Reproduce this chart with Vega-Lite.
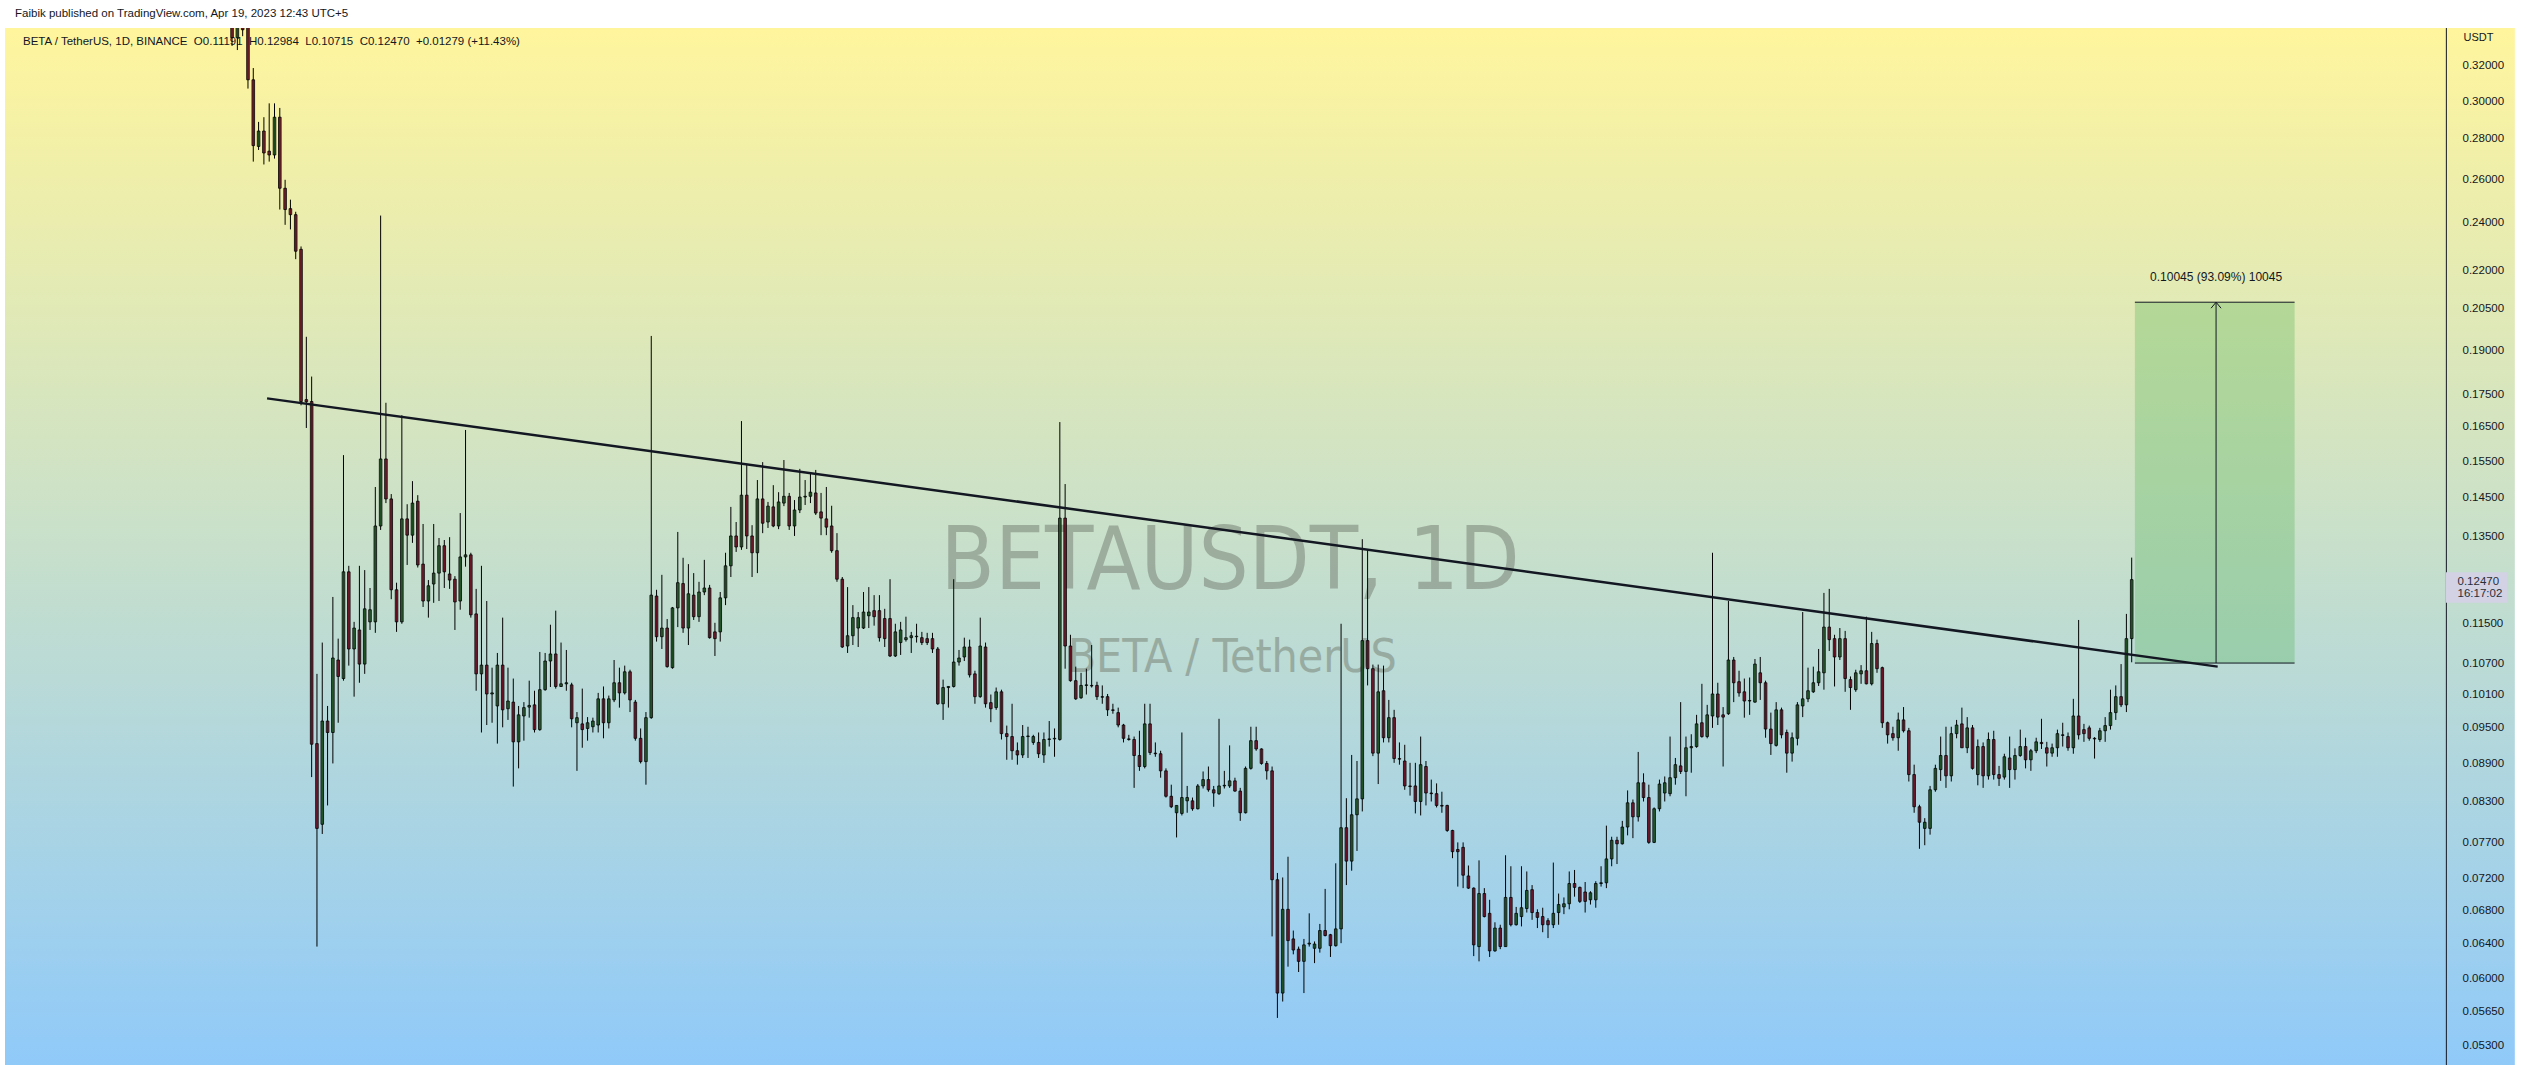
{
"$schema": "https://vega.github.io/schema/vega-lite/v6.json",
"width": 2452, "height": 1037,
"autosize": {"type": "none"},
"padding": {"left": 0, "top": 28, "right": 78, "bottom": 0},
"background": "#ffffff",
"config": {"view": {"stroke": null}, "font": "Liberation Sans"},
"data": {"values": [
{"i":0,"o":0.360,"h":0.372,"l":0.332,"c":0.337},
{"i":1,"o":0.337,"h":0.362,"l":0.3295,"c":0.352},
{"i":2,"o":0.346,"h":0.352,"l":0.338,"c":0.342},
{"i":3,"o":0.352,"h":0.358,"l":0.307,"c":0.312},
{"i":4,"o":0.312,"h":0.3188,"l":0.2685,"c":0.2765},
{"i":5,"o":0.2761,"h":0.2888,"l":0.2743,"c":0.2840},
{"i":6,"o":0.2840,"h":0.2913,"l":0.2671,"c":0.2728},
{"i":7,"o":0.2737,"h":0.2988,"l":0.2685,"c":0.2718},
{"i":8,"o":0.2718,"h":0.2988,"l":0.2700,"c":0.2913},
{"i":9,"o":0.2913,"h":0.2963,"l":0.2459,"c":0.2557},
{"i":10,"o":0.2557,"h":0.2597,"l":0.2391,"c":0.2459},
{"i":11,"o":0.2463,"h":0.2504,"l":0.2371,"c":0.2436},
{"i":12,"o":0.2436,"h":0.2449,"l":0.2245,"c":0.2278},
{"i":13,"o":0.2286,"h":0.2298,"l":0.1717,"c":0.1729},
{"i":14,"o":0.1735,"h":0.1947,"l":0.1647,"c":0.1728},
{"i":15,"o":0.1729,"h":0.1810,"l":0.0868,"c":0.0922},
{"i":16,"o":0.0923,"h":0.1049,"l":0.0636,"c":0.0790},
{"i":17,"o":0.0796,"h":0.1111,"l":0.0782,"c":0.0962},
{"i":18,"o":0.0962,"h":0.0989,"l":0.0824,"c":0.0942},
{"i":19,"o":0.0942,"h":0.1208,"l":0.0890,"c":0.1080},
{"i":20,"o":0.1076,"h":0.1119,"l":0.0959,"c":0.1044},
{"i":21,"o":0.1040,"h":0.1567,"l":0.1036,"c":0.1265},
{"i":22,"o":0.1265,"h":0.1279,"l":0.1065,"c":0.1098},
{"i":23,"o":0.1098,"h":0.1154,"l":0.1006,"c":0.1141},
{"i":24,"o":0.1137,"h":0.1279,"l":0.1032,"c":0.1068},
{"i":25,"o":0.1068,"h":0.1269,"l":0.1049,"c":0.1182},
{"i":26,"o":0.1154,"h":0.1228,"l":0.1137,"c":0.1180},
{"i":27,"o":0.1154,"h":0.1478,"l":0.1131,"c":0.1376},
{"i":28,"o":0.1376,"h":0.2432,"l":0.1366,"c":0.1556},
{"i":29,"o":0.1556,"h":0.1725,"l":0.1435,"c":0.1446},
{"i":30,"o":0.1446,"h":0.1459,"l":0.1203,"c":0.1224},
{"i":31,"o":0.1224,"h":0.1240,"l":0.1133,"c":0.1154},
{"i":32,"o":0.1154,"h":0.1686,"l":0.1150,"c":0.1394},
{"i":33,"o":0.1394,"h":0.1432,"l":0.1281,"c":0.1353},
{"i":34,"o":0.1353,"h":0.1494,"l":0.1334,"c":0.1435},
{"i":35,"o":0.1440,"h":0.1456,"l":0.1275,"c":0.1281},
{"i":36,"o":0.1283,"h":0.1381,"l":0.1186,"c":0.1199},
{"i":37,"o":0.1199,"h":0.1246,"l":0.1163,"c":0.1233},
{"i":38,"o":0.1237,"h":0.1381,"l":0.1195,"c":0.1262},
{"i":39,"o":0.1262,"h":0.1346,"l":0.1199,"c":0.1327},
{"i":40,"o":0.1327,"h":0.1341,"l":0.1228,"c":0.1265},
{"i":41,"o":0.1260,"h":0.1348,"l":0.1226,"c":0.1246},
{"i":42,"o":0.1248,"h":0.1255,"l":0.1137,"c":0.1197},
{"i":43,"o":0.1199,"h":0.1409,"l":0.1180,"c":0.1300},
{"i":44,"o":0.1300,"h":0.1641,"l":0.1277,"c":0.1305},
{"i":45,"o":0.1305,"h":0.1310,"l":0.1163,"c":0.1169},
{"i":46,"o":0.1171,"h":0.1226,"l":0.1017,"c":0.1049},
{"i":47,"o":0.1049,"h":0.1279,"l":0.0942,"c":0.1066},
{"i":48,"o":0.1066,"h":0.1199,"l":0.0955,"c":0.1011},
{"i":49,"o":0.1011,"h":0.1061,"l":0.0959,"c":0.1013},
{"i":50,"o":0.0989,"h":0.1090,"l":0.0923,"c":0.1066},
{"i":51,"o":0.1066,"h":0.1163,"l":0.0951,"c":0.0982},
{"i":52,"o":0.0984,"h":0.1061,"l":0.0964,"c":0.0998},
{"i":53,"o":0.0996,"h":0.1040,"l":0.0853,"c":0.0926},
{"i":54,"o":0.0926,"h":0.0989,"l":0.0882,"c":0.0973},
{"i":55,"o":0.0971,"h":0.0996,"l":0.0928,"c":0.0986},
{"i":56,"o":0.0987,"h":0.1036,"l":0.0968,"c":0.0990},
{"i":57,"o":0.0991,"h":0.1017,"l":0.0942,"c":0.0947},
{"i":58,"o":0.0947,"h":0.1092,"l":0.0945,"c":0.1019},
{"i":59,"o":0.1019,"h":0.1090,"l":0.1017,"c":0.1074},
{"i":60,"o":0.1074,"h":0.1148,"l":0.1024,"c":0.1088},
{"i":61,"o":0.1088,"h":0.1178,"l":0.1021,"c":0.1025},
{"i":62,"o":0.1025,"h":0.1111,"l":0.1024,"c":0.1030},
{"i":63,"o":0.1030,"h":0.1096,"l":0.1017,"c":0.1032},
{"i":64,"o":0.1028,"h":0.1032,"l":0.0951,"c":0.0966},
{"i":65,"o":0.0959,"h":0.0978,"l":0.0878,"c":0.0968},
{"i":66,"o":0.0957,"h":0.1021,"l":0.0916,"c":0.0947},
{"i":67,"o":0.0949,"h":0.0969,"l":0.0928,"c":0.0959},
{"i":68,"o":0.0952,"h":0.0968,"l":0.0942,"c":0.0962},
{"i":69,"o":0.0955,"h":0.1013,"l":0.0942,"c":0.1002},
{"i":70,"o":0.1002,"h":0.1025,"l":0.0932,"c":0.0959},
{"i":71,"o":0.0959,"h":0.1008,"l":0.0949,"c":0.1002},
{"i":72,"o":0.1000,"h":0.1076,"l":0.0996,"c":0.1032},
{"i":73,"o":0.1032,"h":0.1061,"l":0.0986,"c":0.1013},
{"i":74,"o":0.1013,"h":0.1065,"l":0.1010,"c":0.1053},
{"i":75,"o":0.1053,"h":0.1057,"l":0.0978,"c":0.1000},
{"i":76,"o":0.0996,"h":0.1000,"l":0.0928,"c":0.0932},
{"i":77,"o":0.0932,"h":0.0949,"l":0.0890,"c":0.0893},
{"i":78,"o":0.0893,"h":0.0978,"l":0.0856,"c":0.0968},
{"i":79,"o":0.0968,"h":0.1950,"l":0.0966,"c":0.1212},
{"i":80,"o":0.1210,"h":0.1224,"l":0.1113,"c":0.1123},
{"i":81,"o":0.1123,"h":0.1258,"l":0.1098,"c":0.1141},
{"i":82,"o":0.1141,"h":0.1160,"l":0.1061,"c":0.1063},
{"i":83,"o":0.1061,"h":0.1186,"l":0.1059,"c":0.1184},
{"i":84,"o":0.1184,"h":0.1361,"l":0.1143,"c":0.1240},
{"i":85,"o":0.1238,"h":0.1298,"l":0.1131,"c":0.1141},
{"i":86,"o":0.1141,"h":0.1283,"l":0.1106,"c":0.1215},
{"i":87,"o":0.1212,"h":0.1262,"l":0.1158,"c":0.1165},
{"i":88,"o":0.1165,"h":0.1242,"l":0.1154,"c":0.1219},
{"i":89,"o":0.1219,"h":0.1293,"l":0.1212,"c":0.1228},
{"i":90,"o":0.1228,"h":0.1235,"l":0.1119,"c":0.1121},
{"i":91,"o":0.1133,"h":0.1152,"l":0.1084,"c":0.1119},
{"i":92,"o":0.1133,"h":0.1219,"l":0.1113,"c":0.1206},
{"i":93,"o":0.1206,"h":0.1310,"l":0.1190,"c":0.1279},
{"i":94,"o":0.1279,"h":0.1425,"l":0.1253,"c":0.1351},
{"i":95,"o":0.1351,"h":0.1386,"l":0.1312,"c":0.1324},
{"i":96,"o":0.1324,"h":0.1668,"l":0.1317,"c":0.1456},
{"i":97,"o":0.1456,"h":0.1542,"l":0.1319,"c":0.1351},
{"i":98,"o":0.1351,"h":0.1378,"l":0.1253,"c":0.1310},
{"i":99,"o":0.1310,"h":0.1497,"l":0.1262,"c":0.1446},
{"i":100,"o":0.1446,"h":0.1547,"l":0.1358,"c":0.1383},
{"i":101,"o":0.1386,"h":0.1438,"l":0.1371,"c":0.1427},
{"i":102,"o":0.1425,"h":0.1483,"l":0.1373,"c":0.1376},
{"i":103,"o":0.1376,"h":0.1464,"l":0.1368,"c":0.1438},
{"i":104,"o":0.1435,"h":0.1553,"l":0.1427,"c":0.1453},
{"i":105,"o":0.1453,"h":0.1462,"l":0.1366,"c":0.1376},
{"i":106,"o":0.1376,"h":0.1443,"l":0.1351,"c":0.1417},
{"i":107,"o":0.1417,"h":0.1528,"l":0.1409,"c":0.1451},
{"i":108,"o":0.1451,"h":0.1497,"l":0.1430,"c":0.1453},
{"i":109,"o":0.1453,"h":0.1519,"l":0.1435,"c":0.1464},
{"i":110,"o":0.1462,"h":0.1525,"l":0.1404,"c":0.1409},
{"i":111,"o":0.1412,"h":0.1462,"l":0.1353,"c":0.1396},
{"i":112,"o":0.1394,"h":0.1478,"l":0.1353,"c":0.1373},
{"i":113,"o":0.1376,"h":0.1428,"l":0.1310,"c":0.1315},
{"i":114,"o":0.1315,"h":0.1358,"l":0.1242,"c":0.1248},
{"i":115,"o":0.1248,"h":0.1253,"l":0.1100,"c":0.1102},
{"i":116,"o":0.1104,"h":0.1230,"l":0.1090,"c":0.1125},
{"i":117,"o":0.1125,"h":0.1190,"l":0.1106,"c":0.1163},
{"i":118,"o":0.1141,"h":0.1175,"l":0.1102,"c":0.1163},
{"i":119,"o":0.1141,"h":0.1219,"l":0.1139,"c":0.1175},
{"i":120,"o":0.1167,"h":0.1230,"l":0.1141,"c":0.1175},
{"i":121,"o":0.1178,"h":0.1212,"l":0.1146,"c":0.1165},
{"i":122,"o":0.1178,"h":0.1212,"l":0.1113,"c":0.1121},
{"i":123,"o":0.1161,"h":0.1182,"l":0.1102,"c":0.1119},
{"i":124,"o":0.1161,"h":0.1248,"l":0.1082,"c":0.1084},
{"i":125,"o":0.1084,"h":0.1150,"l":0.1082,"c":0.1133},
{"i":126,"o":0.1111,"h":0.1154,"l":0.1086,"c":0.1137},
{"i":127,"o":0.1117,"h":0.1165,"l":0.1113,"c":0.1121},
{"i":128,"o":0.1121,"h":0.1133,"l":0.1090,"c":0.1125},
{"i":129,"o":0.1123,"h":0.1150,"l":0.1111,"c":0.1124},
{"i":130,"o":0.1121,"h":0.1133,"l":0.1106,"c":0.1111},
{"i":131,"o":0.1119,"h":0.1131,"l":0.1106,"c":0.1111},
{"i":132,"o":0.1119,"h":0.1131,"l":0.1090,"c":0.1098},
{"i":133,"o":0.1098,"h":0.1102,"l":0.0991,"c":0.0993},
{"i":134,"o":0.0993,"h":0.1038,"l":0.0964,"c":0.1023},
{"i":135,"o":0.1023,"h":0.1025,"l":0.0986,"c":0.1025},
{"i":136,"o":0.1025,"h":0.1248,"l":0.1023,"c":0.1072},
{"i":137,"o":0.1072,"h":0.1096,"l":0.1065,"c":0.1080},
{"i":138,"o":0.1082,"h":0.1121,"l":0.1074,"c":0.1102},
{"i":139,"o":0.1102,"h":0.1117,"l":0.1042,"c":0.1047},
{"i":140,"o":0.1049,"h":0.1055,"l":0.0993,"c":0.1006},
{"i":141,"o":0.1006,"h":0.1163,"l":0.1004,"c":0.1104},
{"i":142,"o":0.1102,"h":0.1111,"l":0.0986,"c":0.0993},
{"i":143,"o":0.0995,"h":0.1010,"l":0.0960,"c":0.0984},
{"i":144,"o":0.0986,"h":0.1023,"l":0.0982,"c":0.1015},
{"i":145,"o":0.1015,"h":0.1019,"l":0.0930,"c":0.0940},
{"i":146,"o":0.0940,"h":0.0954,"l":0.0896,"c":0.0935},
{"i":147,"o":0.0935,"h":0.0993,"l":0.0896,"c":0.0911},
{"i":148,"o":0.0911,"h":0.0925,"l":0.0888,"c":0.0904},
{"i":149,"o":0.0904,"h":0.0955,"l":0.0899,"c":0.0935},
{"i":150,"o":0.0935,"h":0.0952,"l":0.0899,"c":0.0936},
{"i":151,"o":0.0925,"h":0.0938,"l":0.0921,"c":0.0935},
{"i":152,"o":0.0925,"h":0.0942,"l":0.0899,"c":0.0906},
{"i":153,"o":0.0904,"h":0.0942,"l":0.0891,"c":0.0930},
{"i":154,"o":0.0930,"h":0.0962,"l":0.0918,"c":0.0931},
{"i":155,"o":0.0931,"h":0.0949,"l":0.0901,"c":0.0932},
{"i":156,"o":0.0930,"h":0.1665,"l":0.0928,"c":0.1396},
{"i":157,"o":0.1396,"h":0.1486,"l":0.1059,"c":0.1104},
{"i":158,"o":0.1104,"h":0.1127,"l":0.1034,"c":0.1036},
{"i":159,"o":0.1036,"h":0.1063,"l":0.1000,"c":0.1002},
{"i":160,"o":0.1004,"h":0.1051,"l":0.1002,"c":0.1027},
{"i":161,"o":0.1027,"h":0.1059,"l":0.1010,"c":0.1028},
{"i":162,"o":0.1027,"h":0.1106,"l":0.1023,"c":0.1026},
{"i":163,"o":0.1027,"h":0.1034,"l":0.1000,"c":0.1006},
{"i":164,"o":0.1006,"h":0.1027,"l":0.0993,"c":0.1005},
{"i":165,"o":0.1006,"h":0.1011,"l":0.0971,"c":0.0982},
{"i":166,"o":0.0982,"h":0.0993,"l":0.0975,"c":0.0981},
{"i":167,"o":0.0977,"h":0.0986,"l":0.0951,"c":0.0955},
{"i":168,"o":0.0955,"h":0.0957,"l":0.0925,"c":0.0932},
{"i":169,"o":0.0931,"h":0.0938,"l":0.0928,"c":0.0930},
{"i":170,"o":0.0930,"h":0.0935,"l":0.0851,"c":0.0903},
{"i":171,"o":0.0903,"h":0.0945,"l":0.0878,"c":0.0885},
{"i":172,"o":0.0885,"h":0.0993,"l":0.0882,"c":0.0957},
{"i":173,"o":0.0957,"h":0.0993,"l":0.0904,"c":0.0908},
{"i":174,"o":0.0907,"h":0.0925,"l":0.0901,"c":0.0906},
{"i":175,"o":0.0906,"h":0.0911,"l":0.0867,"c":0.0878},
{"i":176,"o":0.0878,"h":0.0882,"l":0.0836,"c":0.0838},
{"i":177,"o":0.0838,"h":0.0856,"l":0.0820,"c":0.0822},
{"i":178,"o":0.0813,"h":0.0824,"l":0.0777,"c":0.0824},
{"i":179,"o":0.0812,"h":0.0942,"l":0.0809,"c":0.0836},
{"i":180,"o":0.0831,"h":0.0854,"l":0.0813,"c":0.0836},
{"i":181,"o":0.0831,"h":0.0836,"l":0.0816,"c":0.0819},
{"i":182,"o":0.0819,"h":0.0857,"l":0.0818,"c":0.0854},
{"i":183,"o":0.0854,"h":0.0877,"l":0.0850,"c":0.0864},
{"i":184,"o":0.0864,"h":0.0885,"l":0.0845,"c":0.0848},
{"i":185,"o":0.0848,"h":0.0854,"l":0.0822,"c":0.0843},
{"i":186,"o":0.0842,"h":0.0966,"l":0.0840,"c":0.0854},
{"i":187,"o":0.0854,"h":0.0878,"l":0.0850,"c":0.0855},
{"i":188,"o":0.0854,"h":0.0920,"l":0.0851,"c":0.0862},
{"i":189,"o":0.0862,"h":0.0867,"l":0.0845,"c":0.0846},
{"i":190,"o":0.0846,"h":0.0851,"l":0.0801,"c":0.0813},
{"i":191,"o":0.0813,"h":0.0885,"l":0.0812,"c":0.0882},
{"i":192,"o":0.0882,"h":0.0952,"l":0.0880,"c":0.0928},
{"i":193,"o":0.0928,"h":0.0952,"l":0.0911,"c":0.0914},
{"i":194,"o":0.0914,"h":0.0915,"l":0.0888,"c":0.0890},
{"i":195,"o":0.0890,"h":0.0894,"l":0.0864,"c":0.0878},
{"i":196,"o":0.0878,"h":0.0885,"l":0.0648,"c":0.0719},
{"i":197,"o":0.0719,"h":0.0728,"l":0.0558,"c":0.0584},
{"i":198,"o":0.0584,"h":0.0722,"l":0.0575,"c":0.0681},
{"i":199,"o":0.0681,"h":0.0750,"l":0.0613,"c":0.0643},
{"i":200,"o":0.0645,"h":0.0655,"l":0.0627,"c":0.0632},
{"i":201,"o":0.0633,"h":0.0636,"l":0.0607,"c":0.0619},
{"i":202,"o":0.0619,"h":0.0645,"l":0.0584,"c":0.0638},
{"i":203,"o":0.0639,"h":0.0676,"l":0.0636,"c":0.0640},
{"i":204,"o":0.0634,"h":0.0642,"l":0.0617,"c":0.0639},
{"i":205,"o":0.0634,"h":0.0663,"l":0.0629,"c":0.0655},
{"i":206,"o":0.0655,"h":0.0707,"l":0.0648,"c":0.0649},
{"i":207,"o":0.0650,"h":0.0651,"l":0.0624,"c":0.0637},
{"i":208,"o":0.0637,"h":0.0741,"l":0.0636,"c":0.0657},
{"i":209,"o":0.0657,"h":0.1150,"l":0.0640,"c":0.0791},
{"i":210,"o":0.0791,"h":0.0835,"l":0.0712,"c":0.0744},
{"i":211,"o":0.0744,"h":0.0904,"l":0.0731,"c":0.0810},
{"i":212,"o":0.0810,"h":0.0894,"l":0.0758,"c":0.0834},
{"i":213,"o":0.0834,"h":0.1343,"l":0.0815,"c":0.1115},
{"i":214,"o":0.1115,"h":0.1317,"l":0.1027,"c":0.1059},
{"i":215,"o":0.1059,"h":0.1067,"l":0.0902,"c":0.0907},
{"i":216,"o":0.0907,"h":0.1067,"l":0.0857,"c":0.1015},
{"i":217,"o":0.1017,"h":0.1065,"l":0.0925,"c":0.0933},
{"i":218,"o":0.0933,"h":0.1000,"l":0.0925,"c":0.0968},
{"i":219,"o":0.0968,"h":0.0982,"l":0.0891,"c":0.0898},
{"i":220,"o":0.0898,"h":0.0925,"l":0.0888,"c":0.0897},
{"i":221,"o":0.0894,"h":0.0921,"l":0.0848,"c":0.0854},
{"i":222,"o":0.0854,"h":0.0891,"l":0.0839,"c":0.0853},
{"i":223,"o":0.0854,"h":0.0891,"l":0.0812,"c":0.0830},
{"i":224,"o":0.0830,"h":0.0935,"l":0.0809,"c":0.0888},
{"i":225,"o":0.0885,"h":0.0894,"l":0.0824,"c":0.0843},
{"i":226,"o":0.0843,"h":0.0864,"l":0.0830,"c":0.0842},
{"i":227,"o":0.0842,"h":0.0858,"l":0.0821,"c":0.0824},
{"i":228,"o":0.0824,"h":0.0845,"l":0.0813,"c":0.0823},
{"i":229,"o":0.0824,"h":0.0825,"l":0.0785,"c":0.0787},
{"i":230,"o":0.0787,"h":0.0788,"l":0.0748,"c":0.0757},
{"i":231,"o":0.0760,"h":0.0770,"l":0.0710,"c":0.0757},
{"i":232,"o":0.0763,"h":0.0770,"l":0.0708,"c":0.0725},
{"i":233,"o":0.0724,"h":0.0738,"l":0.0707,"c":0.0708},
{"i":234,"o":0.0708,"h":0.0709,"l":0.0625,"c":0.0638},
{"i":235,"o":0.0636,"h":0.0745,"l":0.0619,"c":0.0701},
{"i":236,"o":0.0701,"h":0.0708,"l":0.0671,"c":0.0672},
{"i":237,"o":0.0676,"h":0.0693,"l":0.0624,"c":0.0631},
{"i":238,"o":0.0631,"h":0.0665,"l":0.0630,"c":0.0658},
{"i":239,"o":0.0658,"h":0.0662,"l":0.0633,"c":0.0636},
{"i":240,"o":0.0636,"h":0.0752,"l":0.0636,"c":0.0696},
{"i":241,"o":0.0696,"h":0.0737,"l":0.0660,"c":0.0662},
{"i":242,"o":0.0662,"h":0.0684,"l":0.0661,"c":0.0676},
{"i":243,"o":0.0672,"h":0.0737,"l":0.0660,"c":0.0683},
{"i":244,"o":0.0682,"h":0.0730,"l":0.0677,"c":0.0705},
{"i":245,"o":0.0706,"h":0.0712,"l":0.0668,"c":0.0677},
{"i":246,"o":0.0677,"h":0.0681,"l":0.0658,"c":0.0671},
{"i":247,"o":0.0672,"h":0.0683,"l":0.0653,"c":0.0662},
{"i":248,"o":0.0667,"h":0.0670,"l":0.0646,"c":0.0662},
{"i":249,"o":0.0662,"h":0.0742,"l":0.0658,"c":0.0676},
{"i":250,"o":0.0677,"h":0.0701,"l":0.0662,"c":0.0687},
{"i":251,"o":0.0684,"h":0.0696,"l":0.0675,"c":0.0688},
{"i":252,"o":0.0688,"h":0.0730,"l":0.0681,"c":0.0714},
{"i":253,"o":0.0714,"h":0.0732,"l":0.0697,"c":0.0709},
{"i":254,"o":0.0709,"h":0.0710,"l":0.0689,"c":0.0691},
{"i":255,"o":0.0703,"h":0.0716,"l":0.0677,"c":0.0691},
{"i":256,"o":0.0693,"h":0.0704,"l":0.0687,"c":0.0702},
{"i":257,"o":0.0693,"h":0.0717,"l":0.0683,"c":0.0714},
{"i":258,"o":0.0714,"h":0.0737,"l":0.0710,"c":0.0715},
{"i":259,"o":0.0715,"h":0.0794,"l":0.0708,"c":0.0747},
{"i":260,"o":0.0747,"h":0.0778,"l":0.0737,"c":0.0773},
{"i":261,"o":0.0773,"h":0.0778,"l":0.0740,"c":0.0768},
{"i":262,"o":0.0768,"h":0.0801,"l":0.0767,"c":0.0792},
{"i":263,"o":0.0792,"h":0.0847,"l":0.0780,"c":0.0828},
{"i":264,"o":0.0828,"h":0.0833,"l":0.0776,"c":0.0807},
{"i":265,"o":0.0807,"h":0.0909,"l":0.0800,"c":0.0859},
{"i":266,"o":0.0859,"h":0.0874,"l":0.0830,"c":0.0836},
{"i":267,"o":0.0836,"h":0.0856,"l":0.0768,"c":0.0770},
{"i":268,"o":0.0770,"h":0.0821,"l":0.0769,"c":0.0819},
{"i":269,"o":0.0819,"h":0.0864,"l":0.0815,"c":0.0857},
{"i":270,"o":0.0843,"h":0.0869,"l":0.0830,"c":0.0859},
{"i":271,"o":0.0842,"h":0.0935,"l":0.0838,"c":0.0867},
{"i":272,"o":0.0867,"h":0.0899,"l":0.0856,"c":0.0888},
{"i":273,"o":0.0886,"h":0.0996,"l":0.0873,"c":0.0877},
{"i":274,"o":0.0877,"h":0.0935,"l":0.0838,"c":0.0916},
{"i":275,"o":0.0916,"h":0.0939,"l":0.0875,"c":0.0918},
{"i":276,"o":0.0918,"h":0.0973,"l":0.0916,"c":0.0957},
{"i":277,"o":0.0959,"h":0.1030,"l":0.0933,"c":0.0935},
{"i":278,"o":0.0935,"h":0.0991,"l":0.0932,"c":0.0973},
{"i":279,"o":0.0971,"h":0.1310,"l":0.0950,"c":0.1011},
{"i":280,"o":0.1011,"h":0.1032,"l":0.0955,"c":0.0969},
{"i":281,"o":0.0973,"h":0.0987,"l":0.0885,"c":0.0969},
{"i":282,"o":0.0975,"h":0.1199,"l":0.0973,"c":0.1076},
{"i":283,"o":0.1076,"h":0.1082,"l":0.0996,"c":0.1032},
{"i":284,"o":0.1034,"h":0.1055,"l":0.1006,"c":0.1013},
{"i":285,"o":0.1015,"h":0.1040,"l":0.0968,"c":0.0998},
{"i":286,"o":0.0998,"h":0.1042,"l":0.0973,"c":0.0999},
{"i":287,"o":0.0996,"h":0.1078,"l":0.0995,"c":0.1068},
{"i":288,"o":0.1051,"h":0.1082,"l":0.1000,"c":0.1032},
{"i":289,"o":0.1032,"h":0.1036,"l":0.0933,"c":0.0948},
{"i":290,"o":0.0948,"h":0.0977,"l":0.0904,"c":0.0923},
{"i":291,"o":0.0920,"h":0.0996,"l":0.0918,"c":0.0982},
{"i":292,"o":0.0982,"h":0.0986,"l":0.0932,"c":0.0938},
{"i":293,"o":0.0942,"h":0.0947,"l":0.0875,"c":0.0907},
{"i":294,"o":0.0907,"h":0.0942,"l":0.0893,"c":0.0933},
{"i":295,"o":0.0932,"h":0.0996,"l":0.0920,"c":0.0991},
{"i":296,"o":0.0989,"h":0.1175,"l":0.0969,"c":0.1002},
{"i":297,"o":0.1002,"h":0.1061,"l":0.0996,"c":0.1017},
{"i":298,"o":0.1015,"h":0.1063,"l":0.1013,"c":0.1032},
{"i":299,"o":0.1032,"h":0.1098,"l":0.1026,"c":0.1053},
{"i":300,"o":0.1051,"h":0.1217,"l":0.1019,"c":0.1143},
{"i":301,"o":0.1143,"h":0.1226,"l":0.1094,"c":0.1117},
{"i":302,"o":0.1119,"h":0.1127,"l":0.1025,"c":0.1082},
{"i":303,"o":0.1082,"h":0.1141,"l":0.1076,"c":0.1119},
{"i":304,"o":0.1119,"h":0.1135,"l":0.1015,"c":0.1040},
{"i":305,"o":0.1038,"h":0.1044,"l":0.0982,"c":0.1023},
{"i":306,"o":0.1019,"h":0.1057,"l":0.1015,"c":0.1051},
{"i":307,"o":0.1049,"h":0.1066,"l":0.1030,"c":0.1055},
{"i":308,"o":0.1055,"h":0.1165,"l":0.1029,"c":0.1030},
{"i":309,"o":0.1030,"h":0.1133,"l":0.1027,"c":0.1109},
{"i":310,"o":0.1109,"h":0.1117,"l":0.1051,"c":0.1059},
{"i":311,"o":0.1061,"h":0.1063,"l":0.0950,"c":0.0959},
{"i":312,"o":0.0959,"h":0.0961,"l":0.0923,"c":0.0938},
{"i":313,"o":0.0940,"h":0.0952,"l":0.0928,"c":0.0933},
{"i":314,"o":0.0933,"h":0.0977,"l":0.0911,"c":0.0964},
{"i":315,"o":0.0964,"h":0.0987,"l":0.0942,"c":0.0945},
{"i":316,"o":0.0945,"h":0.0950,"l":0.0861,"c":0.0872},
{"i":317,"o":0.0872,"h":0.0888,"l":0.0813,"c":0.0822},
{"i":318,"o":0.0822,"h":0.0825,"l":0.0761,"c":0.0799},
{"i":319,"o":0.0790,"h":0.0805,"l":0.0766,"c":0.0799},
{"i":320,"o":0.0790,"h":0.0854,"l":0.0781,"c":0.0848},
{"i":321,"o":0.0848,"h":0.0888,"l":0.0845,"c":0.0882},
{"i":322,"o":0.0880,"h":0.0935,"l":0.0862,"c":0.0903},
{"i":323,"o":0.0903,"h":0.0952,"l":0.0851,"c":0.0870},
{"i":324,"o":0.0870,"h":0.0952,"l":0.0861,"c":0.0940},
{"i":325,"o":0.0940,"h":0.0964,"l":0.0932,"c":0.0955},
{"i":326,"o":0.0957,"h":0.0986,"l":0.0916,"c":0.0916},
{"i":327,"o":0.0916,"h":0.0969,"l":0.0907,"c":0.0950},
{"i":328,"o":0.0950,"h":0.0955,"l":0.0880,"c":0.0882},
{"i":329,"o":0.0872,"h":0.0930,"l":0.0855,"c":0.0918},
{"i":330,"o":0.0918,"h":0.0925,"l":0.0851,"c":0.0870},
{"i":331,"o":0.0870,"h":0.0942,"l":0.0864,"c":0.0930},
{"i":332,"o":0.0930,"h":0.0945,"l":0.0864,"c":0.0872},
{"i":333,"o":0.0872,"h":0.0886,"l":0.0854,"c":0.0866},
{"i":334,"o":0.0868,"h":0.0906,"l":0.0864,"c":0.0901},
{"i":335,"o":0.0899,"h":0.0935,"l":0.0851,"c":0.0880},
{"i":336,"o":0.0880,"h":0.0915,"l":0.0864,"c":0.0903},
{"i":337,"o":0.0903,"h":0.0947,"l":0.0901,"c":0.0918},
{"i":338,"o":0.0918,"h":0.0933,"l":0.0882,"c":0.0896},
{"i":339,"o":0.0896,"h":0.0914,"l":0.0878,"c":0.0911},
{"i":340,"o":0.0911,"h":0.0933,"l":0.0907,"c":0.0926},
{"i":341,"o":0.0925,"h":0.0966,"l":0.0914,"c":0.0923},
{"i":342,"o":0.0916,"h":0.0926,"l":0.0885,"c":0.0907},
{"i":343,"o":0.0907,"h":0.0923,"l":0.0901,"c":0.0916},
{"i":344,"o":0.0916,"h":0.0947,"l":0.0901,"c":0.0940},
{"i":345,"o":0.0938,"h":0.0959,"l":0.0918,"c":0.0937},
{"i":346,"o":0.0935,"h":0.0942,"l":0.0911,"c":0.0916},
{"i":347,"o":0.0916,"h":0.1002,"l":0.0906,"c":0.0971},
{"i":348,"o":0.0971,"h":0.1158,"l":0.0930,"c":0.0938},
{"i":349,"o":0.0947,"h":0.0957,"l":0.0926,"c":0.0940},
{"i":350,"o":0.0950,"h":0.0954,"l":0.0928,"c":0.0932},
{"i":351,"o":0.0932,"h":0.0934,"l":0.0898,"c":0.0931},
{"i":352,"o":0.0930,"h":0.0950,"l":0.0926,"c":0.0945},
{"i":353,"o":0.0945,"h":0.0969,"l":0.0926,"c":0.0954},
{"i":354,"o":0.0954,"h":0.1019,"l":0.0947,"c":0.0977},
{"i":355,"o":0.0977,"h":0.1027,"l":0.0964,"c":0.1006},
{"i":356,"o":0.1006,"h":0.1068,"l":0.0987,"c":0.0991},
{"i":357,"o":0.0991,"h":0.1171,"l":0.0978,"c":0.1119},
{"i":358,"o":0.11191,"h":0.12984,"l":0.10715,"c":0.12470}
]},
"layer": [
{"data": {"values": [{}]},
 "mark": {"type": "rect", "fill": {"gradient": "linear", "x1": 0, "y1": 0, "x2": 0, "y2": 1, "stops": [{"offset": 0, "color": "#fff59d"}, {"offset": 1, "color": "#90caf9"}]}},
 "encoding": {
  "x": {"datum": -42.79, "type": "quantitative", "scale": {"domain": [-42.79, 417.42], "nice": false, "zero": false}, "axis": null},
  "x2": {"datum": 430.2},
  "y": {"datum": 0.3431, "type": "quantitative", "scale": {"type": "log", "domain": [0.05118, 0.3431], "nice": false, "zero": false},
        "axis": {"orient": "right", "values": [0.32, 0.30, 0.28, 0.26, 0.24, 0.22, 0.205, 0.19, 0.175, 0.165, 0.155, 0.145, 0.135, 0.115, 0.107, 0.101, 0.095, 0.089, 0.083, 0.077, 0.072, 0.068, 0.064, 0.060, 0.0565, 0.053],
                 "format": ".5f", "grid": false, "ticks": false, "tickSize": 0, "domain": false, "labelPadding": 10, "labelFont": "Liberation Sans", "labelFontSize": 11.5, "labelColor": "#131722", "labelOverlap": false, "labelBound": false, "labelFlush": false, "zindex": 1,
                 "title": "USDT", "titleAngle": 0, "titleX": 11, "titleY": 9, "titleAlign": "left", "titleBaseline": "middle", "titleFont": "Liberation Sans", "titleFontSize": 11, "titleFontWeight": "normal", "titleColor": "#131722"}},
  "y2": {"datum": 0.05118}}},
{"data": {"values": [{}]},
 "mark": {"type": "text", "text": "Faibik published on TradingView.com, Apr 19, 2023 12:43 UTC+5", "align": "left", "baseline": "middle", "font": "Liberation Sans", "fontSize": 11.5, "color": "#131722"},
 "encoding": {"x": {"datum": -40.9, "type": "quantitative"}, "y": {"datum": 0.352, "type": "quantitative"}}},
{"data": {"values": [{}]},
 "mark": {"type": "rect", "fill": "#4caf50", "fillOpacity": 0.3},
 "encoding": {"x": {"datum": 358.6, "type": "quantitative"}, "x2": {"datum": 388.7}, "y": {"datum": 0.107, "type": "quantitative"}, "y2": {"datum": 0.20745}}},
{"data": {"values": [{}]},
 "mark": {"type": "text", "text": "BETA / TetherUS, 1D, BINANCE\u00a0\u00a0O0.11191\u00a0\u00a0H0.12984\u00a0\u00a0L0.10715\u00a0\u00a0C0.12470\u00a0\u00a0+0.01279 (+11.43%)", "align": "left", "baseline": "middle", "font": "Liberation Sans", "fontSize": 11.5, "color": "#131722"},
 "encoding": {"x": {"datum": -39.4, "type": "quantitative"}, "y": {"datum": 0.3344, "type": "quantitative"}}},
{"data": {"values": [{}]},
 "mark": {"type": "text", "text": "BETAUSDT, 1D", "align": "center", "baseline": "alphabetic", "font": "DejaVu Sans Condensed, Roboto, sans-serif", "fontSize": 88, "color": "#7a8478", "opacity": 0.55},
 "encoding": {"x": {"datum": 188.1, "type": "quantitative"}, "y": {"datum": 0.1226, "type": "quantitative"}}},
{"data": {"values": [{}]},
 "mark": {"type": "text", "text": "BETA / TetherUS", "align": "center", "baseline": "alphabetic", "font": "DejaVu Sans Condensed, Roboto, sans-serif", "fontSize": 46, "color": "#7a8478", "opacity": 0.55},
 "encoding": {"x": {"datum": 188.5, "type": "quantitative"}, "y": {"datum": 0.1053, "type": "quantitative"}}},
{"mark": {"type": "rule", "color": "#000000", "strokeWidth": 1, "clip": true},
 "encoding": {"x": {"field": "i", "type": "quantitative"}, "y": {"field": "l", "type": "quantitative"}, "y2": {"field": "h"}}},
{"mark": {"type": "bar", "size": 2.6, "stroke": "#000000", "strokeWidth": 0.8, "fillOpacity": 0.8, "clip": true},
 "encoding": {"x": {"field": "i", "type": "quantitative"}, "y": {"field": "o", "type": "quantitative"}, "y2": {"field": "c"},
   "fill": {"condition": {"test": "datum.c >= datum.o", "value": "#1e5a22"}, "value": "#7a0a22"}}},
{"data": {"values": [{}]},
 "mark": {"type": "rule", "color": "#131722", "strokeWidth": 2.5},
 "encoding": {"x": {"datum": 6.6, "type": "quantitative"}, "x2": {"datum": 374.2}, "y": {"datum": 0.1739, "type": "quantitative"}, "y2": {"datum": 0.1063}}},
{"data": {"values": [{"p": 0.107}, {"p": 0.20745}]},
 "mark": {"type": "rule", "color": "#131722", "strokeWidth": 1},
 "encoding": {"x": {"datum": 358.6, "type": "quantitative"}, "x2": {"datum": 388.7}, "y": {"field": "p", "type": "quantitative"}}},
{"data": {"values": [{}]},
 "mark": {"type": "rule", "color": "#131722", "strokeWidth": 1},
 "encoding": {"x": {"datum": 373.9, "type": "quantitative"}, "y": {"datum": 0.107, "type": "quantitative"}, "y2": {"datum": 0.20745}}},
{"data": {"values": [{}]},
 "mark": {"type": "point", "shape": "M-1,1.2L0,0L1,1.2", "size": 100, "filled": false, "stroke": "#131722", "strokeWidth": 1, "opacity": 1},
 "encoding": {"x": {"datum": 373.9, "type": "quantitative"}, "y": {"datum": 0.20745, "type": "quantitative"}}},
{"data": {"values": [{}]},
 "mark": {"type": "text", "text": "0.10045 (93.09%) 10045", "align": "center", "baseline": "middle", "font": "Liberation Sans", "fontSize": 12, "color": "#131722"},
 "encoding": {"x": {"datum": 373.9, "type": "quantitative"}, "y": {"datum": 0.2171, "type": "quantitative"}}},
{"data": {"values": [{}]},
 "mark": {"type": "rule", "color": "#131722", "strokeWidth": 1},
 "encoding": {"x": {"datum": 417.3, "type": "quantitative"}, "y": {"datum": 0.05118, "type": "quantitative"}, "y2": {"datum": 0.3431}}},
{"data": {"values": [{}]},
 "mark": {"type": "rect", "fill": "#d2d2e4"},
 "encoding": {"x": {"datum": 417.2, "type": "quantitative"}, "x2": {"datum": 428.9}, "y": {"datum": 0.1264, "type": "quantitative"}, "y2": {"datum": 0.1195}}},
{"data": {"values": [{"t": "0.12470", "p": 0.1242}, {"t": "16:17:02", "p": 0.1215}]},
 "mark": {"type": "text", "align": "left", "baseline": "middle", "font": "Liberation Sans", "fontSize": 11.5, "color": "#2a2e39"},
 "encoding": {"x": {"datum": 419.4, "type": "quantitative"}, "y": {"field": "p", "type": "quantitative"}, "text": {"field": "t"}}}
]
}
